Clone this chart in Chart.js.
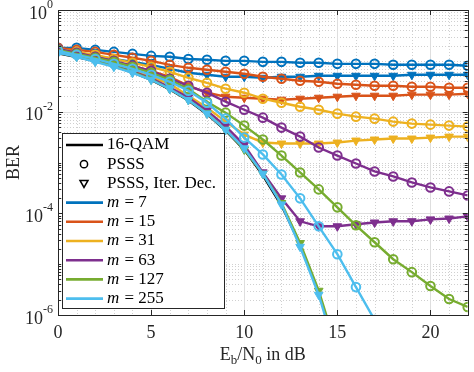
<!DOCTYPE html>
<html>
<head>
<meta charset="utf-8">
<script src="https://cdn.jsdelivr.net/npm/chart.js@4/dist/chart.umd.min.js"></script>
<style>
  html, body { margin: 0; padding: 0; background: #fff; }
  #wrap { width: 474px; height: 372px; }
</style>
</head>
<body>
<div id="wrap"><canvas id="berChart" width="474" height="372"></canvas></div>
<script>
//========================= BER curves ==================================//

/***************************************************************
* Data
****************************************************************/
const ebn0 = [0, 1, 2, 3, 4, 5, 6, 7, 8, 9, 10, 11, 12, 13, 14, 15, 16, 17, 18, 19, 20, 21, 22];

const qam16 = [0.139, 0.118, 0.0975, 0.0777, 0.0585, 0.0416, 0.0272, 0.0164, 0.00886, 0.00419, 0.00176,
  5.5e-4, 1.4e-4, 2.4e-5, 2.7e-6, 1.8e-7];

// PSSS (circles)
const psss7 = [0.180, 0.180, 0.164, 0.150, 0.137, 0.125, 0.120, 0.109, 0.105, 0.100, 0.100, 0.0956,
  0.0956, 0.0914, 0.0914, 0.0873, 0.0873, 0.0873, 0.0835, 0.0835, 0.0835, 0.0835, 0.0798];
const psss15 = [0.180, 0.164, 0.150, 0.131, 0.115, 0.100, 0.0835, 0.0729, 0.0666, 0.0609, 0.0556, 0.0486,
  0.0444, 0.0405, 0.0387, 0.0354, 0.0338, 0.0323, 0.0323, 0.0309, 0.0309, 0.0296, 0.0296];
const psss31 = [0.172, 0.150, 0.131, 0.109, 0.0914, 0.0763, 0.0609, 0.0464, 0.0370, 0.0283, 0.0236, 0.0180,
  0.0150, 0.0125, 0.0109, 0.00914, 0.00798, 0.00729, 0.00637, 0.00582, 0.00556, 0.00532, 0.00508];
const psss63 = [0.172, 0.144, 0.120, 0.100, 0.0798, 0.0637, 0.0444, 0.0323, 0.0236, 0.0157, 0.0109, 0.00763,
  0.00486, 0.00323, 0.00197, 0.00137, 9.56e-4, 6.66e-4, 5.32e-4, 4.05e-4, 3.23e-4, 2.70e-4, 2.25e-4];
const psss127 = [0.164, 0.137, 0.115, 0.0956, 0.0763, 0.0582, 0.0424, 0.0280, 0.0157, 0.00956, 0.00532, 0.00283,
  0.00137, 6.37e-4, 2.96e-4, 1.31e-4, 5.82e-5, 2.70e-5, 1.25e-5, 6.97e-6, 3.71e-6, 2.06e-6, 1.44e-6];
const psss255 = [0.157, 0.131, 0.109, 0.0873, 0.0697, 0.0532, 0.0387, 0.0258, 0.0150, 0.00729, 0.00309, 0.00144,
  5.82e-4, 1.97e-4, 5.56e-5, 1.57e-5, 3.54e-6, 8.0e-7];

// PSSS with iterative decoding (triangles)
const iter7 = [0.164, 0.144, 0.125, 0.109, 0.0956, 0.0835, 0.0697, 0.0582, 0.0532, 0.0486, 0.0486, 0.0464,
  0.0486, 0.0486, 0.0508, 0.0508, 0.0508, 0.0508, 0.0508, 0.0532, 0.0532, 0.0532, 0.0532];
const iter15 = [0.160, 0.137, 0.115, 0.0956, 0.0798, 0.0637, 0.0486, 0.0323, 0.0236, 0.0197, 0.0188, 0.0180,
  0.0172, 0.0180, 0.0188, 0.0197, 0.0206, 0.0206, 0.0206, 0.0216, 0.0216, 0.0216, 0.0225];
const iter31 = [0.150, 0.125, 0.100, 0.0798, 0.0637, 0.0486, 0.0354, 0.0206, 0.0120, 0.00637, 0.00354, 0.00247,
  0.00236, 0.00236, 0.00236, 0.00247, 0.00270, 0.00283, 0.00296, 0.00296, 0.00309, 0.00323, 0.00323];
const iter63 = [0.148, 0.124, 0.101, 0.081, 0.062, 0.045, 0.030, 0.019, 0.0105, 0.0052, 0.0022, 6.4e-4,
  1.97e-4, 6.97e-5, 5.56e-5, 5.56e-5, 6.08e-5, 6.6e-5, 6.97e-5, 7.0e-5, 7.6e-5, 7.9e-5, 8.7e-5];
const iter127 = [0.146, 0.122, 0.099, 0.079, 0.060, 0.043, 0.028, 0.017, 0.0093, 0.0044, 0.0018, 6.0e-4,
  1.6e-4, 2.6e-5, 3.0e-6, 2.0e-7];
const iter255 = [0.144, 0.120, 0.0956, 0.0763, 0.0582, 0.0424, 0.028, 0.017, 0.0092, 0.0044, 0.0019, 6.0e-4,
  1.5e-4, 2.2e-5, 2.5e-6, 1.5e-7];

const mValues = ['7', '15', '31', '63', '127', '255'];
const mColors = ['#0072BD', '#D95319', '#EDB120', '#7E2F8E', '#77AC30', '#4DBEEE'];
const psssSeries = [psss7, psss15, psss31, psss63, psss127, psss255];
const iterSeries = [iter7, iter15, iter31, iter63, iter127, iter255];

const xTicks = [0, 5, 10, 15, 20];
const yTickExps = [0, -2, -4, -6];

/***************************************************************
* Helpers
****************************************************************/
const serif = '"Liberation Serif", "Times New Roman", serif';
const axisColor = '#262626';

function toPoints(values) {
  return values.map((v, i) => ({ x: ebn0[i], y: v }));
}

/***************************************************************
* Datasets
****************************************************************/
const datasets = [{
  label: '16-QAM',
  data: toPoints(qam16),
  borderColor: '#000',
  borderWidth: 2,
  pointRadius: 0
}];

mValues.forEach((m, k) => {
  datasets.push({
    label: 'PSSS m = ' + m,
    data: toPoints(psssSeries[k]),
    borderColor: mColors[k],
    borderWidth: 2.4,
    pointStyle: 'circle',
    pointRadius: 4.3,
    pointBorderWidth: 2,
    pointBorderColor: mColors[k],
    pointBackgroundColor: 'rgba(0,0,0,0)'
  });
  datasets.push({
    label: 'PSSS Iter. m = ' + m,
    data: toPoints(iterSeries[k]),
    borderColor: mColors[k],
    borderWidth: 2.4,
    pointStyle: 'triangle',
    pointRotation: 180,
    pointRadius: 5,
    pointBorderWidth: 1,
    pointBorderColor: mColors[k],
    pointBackgroundColor: mColors[k]
  });
});

// later series drawn on top, like the original plot
datasets.forEach((d, i) => { d.order = datasets.length - i; d.fill = false; d.tension = 0; });

/***************************************************************
* Frame, grid, ticks, labels and legend
****************************************************************/
function drawLine(ctx, x1, y1, x2, y2) {
  ctx.beginPath();
  ctx.moveTo(x1, y1);
  ctx.lineTo(x2, y2);
  ctx.stroke();
}

const matlabFrame = {
  id: 'matlabFrame',
  beforeDatasetsDraw(chart) {
    const { ctx, chartArea: a, scales: { x, y } } = chart;
    ctx.save();

    // minor grid (dotted)
    ctx.strokeStyle = '#c4c4c4';
    ctx.lineWidth = 0.8;
    ctx.setLineDash([1, 2]);
    for (let v = 1; v < 22; v++) {
      if (v % 5 === 0) continue;
      const px = Math.round(x.getPixelForValue(v)) + 0.5;
      drawLine(ctx, px, a.top, px, a.bottom);
    }
    for (let e = -6; e < 0; e++) {
      for (let k = 1; k <= 9; k++) {
        if (k === 1 && e % 2 === 0) continue;
        const py = Math.round(y.getPixelForValue(k * Math.pow(10, e))) + 0.5;
        drawLine(ctx, a.left, py, a.right, py);
      }
    }

    // major grid
    ctx.setLineDash([]);
    ctx.strokeStyle = '#dedede';
    ctx.lineWidth = 1;
    xTicks.forEach(v => {
      const px = Math.round(x.getPixelForValue(v)) + 0.5;
      drawLine(ctx, px, a.top, px, a.bottom);
    });
    yTickExps.forEach(e => {
      const py = Math.round(y.getPixelForValue(Math.pow(10, e))) + 0.5;
      drawLine(ctx, a.left, py, a.right, py);
    });
    ctx.restore();
  },

  afterDatasetsDraw(chart) {
    const { ctx, chartArea: a, scales: { x, y } } = chart;
    ctx.save();

    // box
    ctx.strokeStyle = axisColor;
    ctx.lineWidth = 1;
    ctx.strokeRect(Math.round(a.left) + 0.5, Math.round(a.top) + 0.5,
      Math.round(a.right - a.left), Math.round(a.bottom - a.top));

    // x ticks (inside, bottom and top)
    xTicks.forEach(v => {
      const px = Math.round(x.getPixelForValue(v)) + 0.5;
      drawLine(ctx, px, a.bottom, px, a.bottom - 5);
      drawLine(ctx, px, a.top, px, a.top + 5);
    });

    // y ticks, major + minor, left and right
    for (let e = -6; e <= 0; e++) {
      for (let k = 1; k <= 9; k++) {
        if (e === 0 && k > 1) break;
        const py = Math.round(y.getPixelForValue(k * Math.pow(10, e))) + 0.5;
        const len = (k === 1 && e % 2 === 0) ? 5 : 3;
        drawLine(ctx, a.left, py, a.left + len, py);
        drawLine(ctx, a.right, py, a.right - len, py);
      }
    }

    // tick labels
    ctx.fillStyle = '#262626';
    ctx.textBaseline = 'middle';
    ctx.font = '18px ' + serif;
    ctx.textAlign = 'center';
    xTicks.forEach(v => ctx.fillText(String(v), x.getPixelForValue(v), a.bottom + 18));

    yTickExps.forEach(e => {
      const py = y.getPixelForValue(Math.pow(10, e));
      const sup = e === 0 ? '0' : String(e);
      ctx.font = '12px ' + serif;
      const wSup = ctx.measureText(sup).width;
      ctx.font = '18px ' + serif;
      const wBase = ctx.measureText('10').width;
      const right = a.left - 5;
      ctx.textAlign = 'left';
      ctx.fillText('10', right - wSup - wBase, py + 4);
      ctx.font = '12px ' + serif;
      ctx.fillText(sup, right - wSup, py - 5);
    });

    // axis titles
    ctx.save();
    ctx.font = '18px ' + serif;
    ctx.textAlign = 'center';
    ctx.translate(14, (a.top + a.bottom) / 2);
    ctx.rotate(-Math.PI / 2);
    ctx.fillText('BER', 0, 0);
    ctx.restore();

    const parts = [
      { t: 'E', f: 18, dy: 0 }, { t: 'b', f: 13, dy: 6 }, { t: '/N', f: 18, dy: 0 },
      { t: '0', f: 13, dy: 6 }, { t: ' in dB', f: 18, dy: 0 }
    ];
    let total = 0;
    parts.forEach(p => { ctx.font = p.f + 'px ' + serif; p.w = ctx.measureText(p.t).width; total += p.w; });
    let cx = (a.left + a.right) / 2 - total / 2;
    ctx.textAlign = 'left';
    parts.forEach(p => {
      ctx.font = p.f + 'px ' + serif;
      ctx.fillText(p.t, cx, 355 + p.dy);
      cx += p.w;
    });

    // legend
    const lx = 62, ly = 133, lw = 162, lh = 175;
    ctx.fillStyle = '#fff';
    ctx.fillRect(lx, ly, lw, lh);
    ctx.strokeStyle = axisColor;
    ctx.lineWidth = 1;
    ctx.strokeRect(lx + 0.5, ly + 0.5, lw, lh);

    const rowY = i => ly + 12 + i * 19.2;
    const sx1 = lx + 4, sx2 = lx + 41, mx = lx + 22, tx = lx + 45;

    // 16-QAM
    ctx.strokeStyle = '#000';
    ctx.lineWidth = 2.4;
    drawLine(ctx, sx1, rowY(0), sx2, rowY(0));
    // PSSS circle
    ctx.lineWidth = 1.5;
    ctx.beginPath();
    ctx.arc(mx, rowY(1), 3.6, 0, Math.PI * 2);
    ctx.stroke();
    // Iter. Dec. triangle
    ctx.beginPath();
    ctx.moveTo(mx - 4, rowY(2) - 3);
    ctx.lineTo(mx + 4, rowY(2) - 3);
    ctx.lineTo(mx, rowY(2) + 4);
    ctx.closePath();
    ctx.stroke();

    ctx.fillStyle = '#000';
    ctx.textAlign = 'left';
    ctx.font = '17px ' + serif;
    ctx.fillText('16-QAM', tx, rowY(0));
    ctx.fillText('PSSS', tx, rowY(1));
    ctx.fillText('PSSS, Iter. Dec.', tx, rowY(2));

    mValues.forEach((m, k) => {
      const ry = rowY(3 + k);
      ctx.strokeStyle = mColors[k];
      ctx.lineWidth = 2.6;
      drawLine(ctx, sx1, ry, sx2, ry);
      ctx.font = 'italic 17px ' + serif;
      ctx.fillText('m', tx, ry);
      const wm = ctx.measureText('m').width;
      ctx.font = '17px ' + serif;
      ctx.fillText(' = ' + m, tx + wm + 1, ry);
    });

    ctx.restore();
  }
};

/***************************************************************
* Chart
****************************************************************/
const ctx = document.getElementById('berChart').getContext('2d');

const berChart = new Chart(ctx, {
  type: 'line',
  data: { datasets: datasets },
  options: {
    responsive: false,
    animation: false,
    devicePixelRatio: 1,
    layout: { padding: { left: 58, right: 5, top: 10, bottom: 57 } },
    plugins: { legend: { display: false }, tooltip: { enabled: false } },
    scales: {
      x: { type: 'linear', min: 0, max: 22, display: false },
      y: { type: 'logarithmic', min: 1e-6, max: 1, display: false }
    }
  },
  plugins: [matlabFrame]
});
</script>
</body>
</html>
